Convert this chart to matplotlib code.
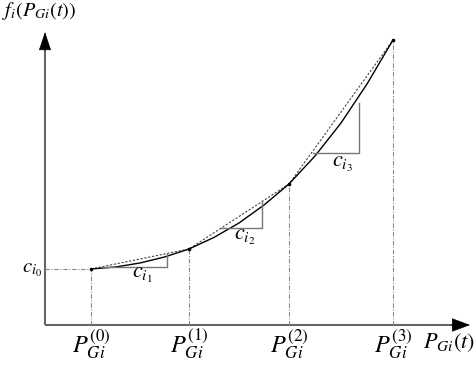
import numpy as np
import matplotlib
matplotlib.use("Agg")
import matplotlib.pyplot as plt

plt.rcParams["mathtext.fontset"] = "stix"
plt.rcParams["font.family"] = ["Liberation Serif", "DejaVu Serif"]

# breakpoints of the piecewise linearisation
bp_x = [0.46, 1.44, 2.44, 3.48]
bp_y = [0.56, 0.76, 1.41, 2.85]
bp_labels = [r"$P_{Gi}^{(0)}$", r"$P_{Gi}^{(1)}$", r"$P_{Gi}^{(2)}$", r"$P_{Gi}^{(3)}$"]

# cost curve, points
curve_x = [0.46, 0.705, 0.95, 1.195, 1.44, 1.69, 1.94, 2.19, 2.44, 2.70, 2.96, 3.22, 3.48]
curve_y = [0.56, 0.58, 0.62, 0.68, 0.76, 0.876, 1.02, 1.20, 1.41, 1.69, 2.02, 2.41, 2.85]

# slope triangles: x start, x end, base y, top y
tri_x0 = [0.58, 1.76, 2.68]
tri_x1 = [1.22, 2.17, 3.14]
tri_yb = [0.585, 0.97, 1.72]
tri_yt = [0.71, 1.24, 2.22]
slope_labels = [r"$c_{i_1}$", r"$c_{i_2}$", r"$c_{i_3}$"]
slope_lab_x = [0.97, 2.00, 2.97]
slope_lab_y = [0.50, 0.88, 1.61]

fig = plt.figure(figsize=(4.74, 3.85), dpi=100)
ax = fig.add_axes([45 / 474, 60 / 385, 425 / 474, 293 / 385])
ax.set_xlim(0, 4.25)
ax.set_ylim(0, 2.93)
ax.axis("off")

dashdot = (0, (4, 1.5, 1, 1.5))

# axes with arrows
ax.plot([0, 4.08], [0, 0], color="#666666", lw=1.5, solid_capstyle="butt", clip_on=False)
ax.plot([0, 0], [0, 2.76], color="#666666", lw=1.5, solid_capstyle="butt", clip_on=False)
ax.annotate("", xy=(4.25, 0), xytext=(4.06, 0),
            arrowprops=dict(arrowstyle="-|>,head_length=1.2,head_width=0.45", color="black", lw=0.5,
                            shrinkA=0, shrinkB=0), annotation_clip=False)
ax.annotate("", xy=(0, 2.93), xytext=(0, 2.74),
            arrowprops=dict(arrowstyle="-|>,head_length=1.2,head_width=0.4", color="black", lw=0.5,
                            shrinkA=0, shrinkB=0), annotation_clip=False)

# guide lines
for x, y in zip(bp_x, bp_y):
    ax.plot([x, x], [0, y], color="#888888", lw=0.8, linestyle=dashdot)
ax.plot([0, bp_x[0]], [bp_y[0], bp_y[0]], color="#888888", lw=0.8, linestyle=dashdot)

# chords and curve
ax.plot(bp_x, bp_y, color="#444444", lw=0.8, linestyle=(0, (2, 1.5)))
ax.plot(curve_x, curve_y, color="black", lw=1.0)
ax.plot(bp_x, bp_y, "o", color="black", ms=1.6)

# slope triangles
for x0, x1, yb, yt in zip(tri_x0, tri_x1, tri_yb, tri_yt):
    ax.plot([x0, x1, x1], [yb, yb, yt], color="#777777", lw=1.0)
for lab, x, y in zip(slope_labels, slope_lab_x, slope_lab_y):
    ax.text(x, y, lab, fontsize=16, ha="center", va="center")

ax.text(-0.13, 0.55, r"$c_{i_0}$", fontsize=15, ha="center", va="center", clip_on=False)

for x, lab in zip(bp_x, bp_labels):
    ax.text(x, -0.19, lab, fontsize=17.5, ha="center", va="center", clip_on=False)

ax.text(4.04, -0.18, r"$P_{Gi}(t)$", fontsize=16, ha="center", va="center", clip_on=False)
ax.text(-0.06, 3.14, r"$f_i(P_{Gi}(t))$", fontsize=14.5, ha="center", va="center", clip_on=False)

fig.savefig("out.png", dpi=100)
